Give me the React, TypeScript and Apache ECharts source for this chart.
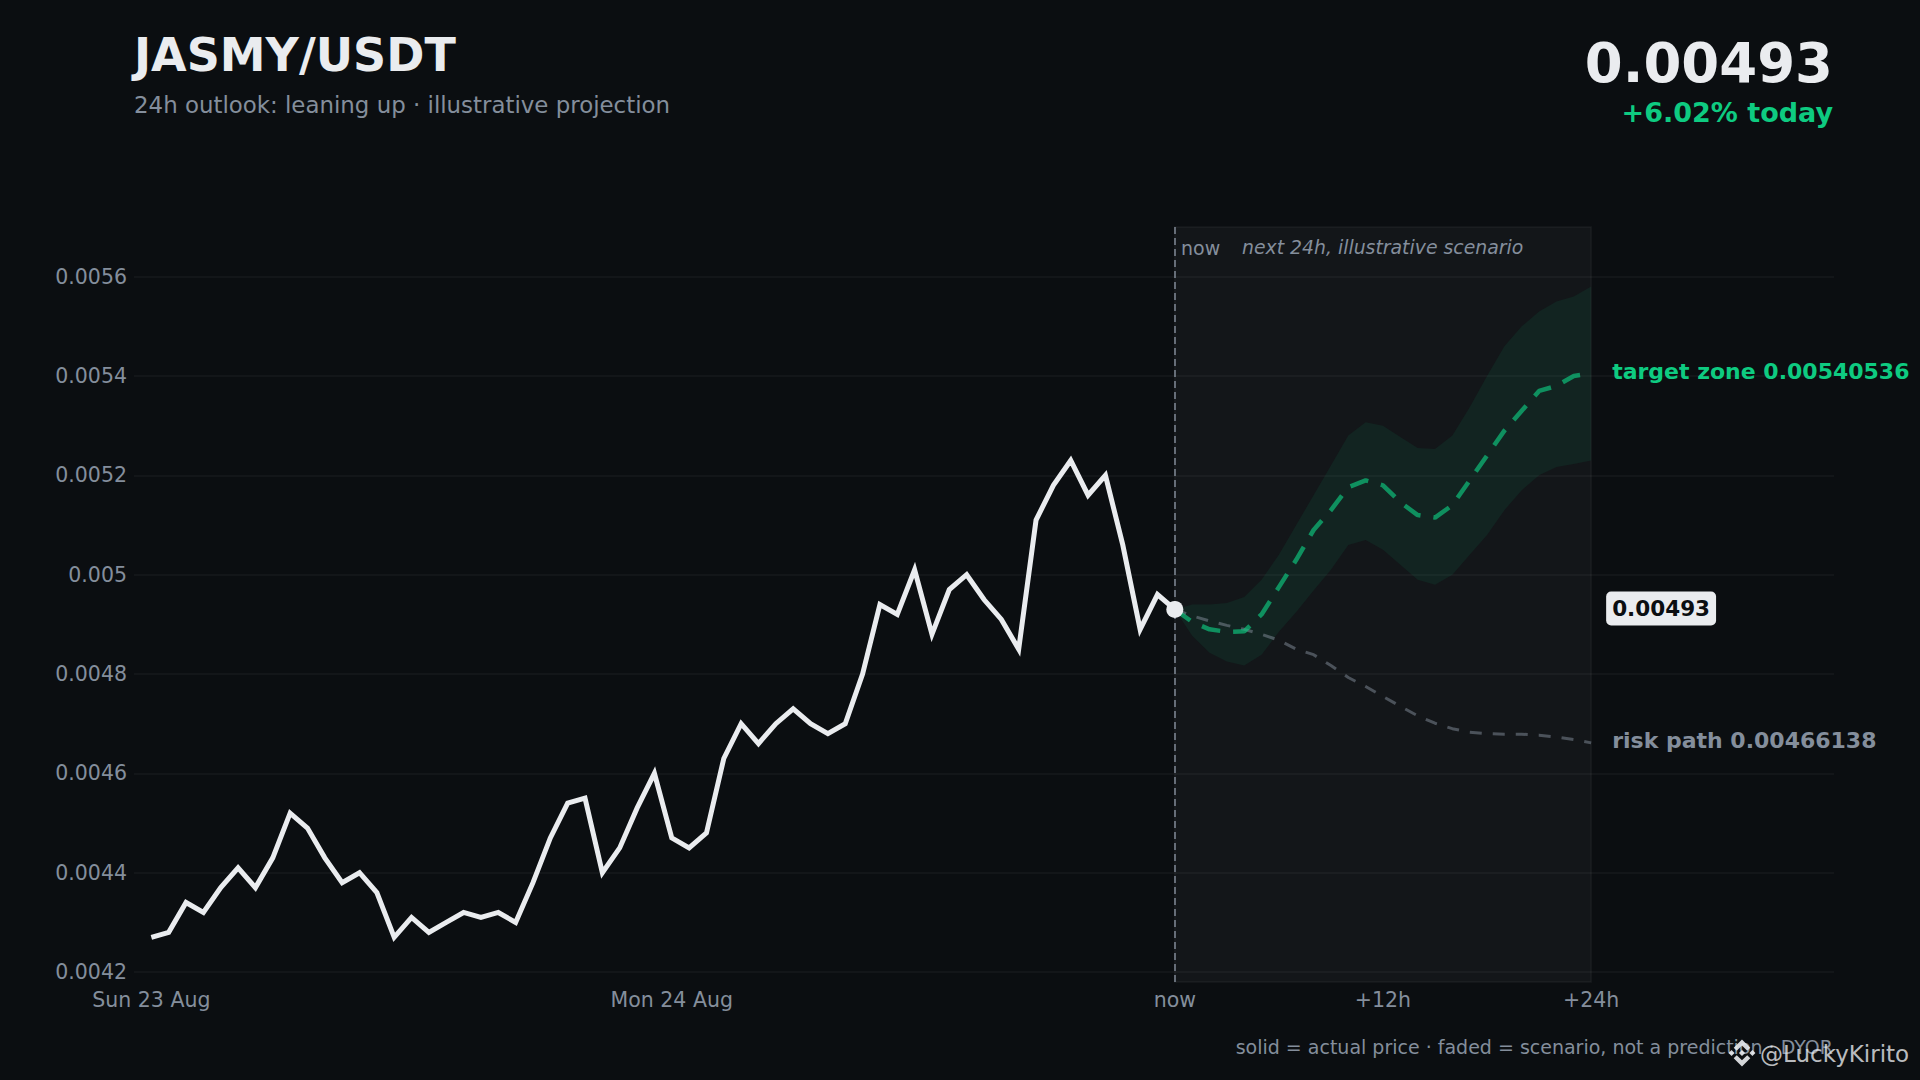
import React, { useEffect, useRef } from "react";
import * as echarts from "echarts";

const historyValues = [
  0.00427, 0.00428, 0.00434, 0.00432, 0.00437, 0.00441, 0.00437, 0.00443, 0.00452, 0.00449,
  0.00443, 0.00438, 0.0044, 0.00436, 0.00427, 0.00431, 0.00428, 0.0043, 0.00432, 0.00431,
  0.00432, 0.0043, 0.00438, 0.00447, 0.00454, 0.00455, 0.0044, 0.00445, 0.00453, 0.0046,
  0.00447, 0.00445, 0.00448, 0.00463, 0.0047, 0.00466, 0.0047, 0.00473, 0.0047, 0.00468,
  0.0047, 0.0048, 0.00494, 0.00492, 0.00501, 0.00488, 0.00497, 0.005, 0.00495, 0.00491,
  0.00485, 0.00511, 0.00518, 0.00523, 0.00516, 0.0052, 0.00506, 0.00489, 0.00496, 0.00493,
];
const targetPath = [
  0.00493, 0.004905, 0.00489, 0.004885, 0.004886, 0.00492, 0.004975, 0.00503, 0.00509, 0.00513,
  0.005176, 0.00519, 0.00518, 0.005146, 0.00512, 0.005115, 0.00514, 0.00519, 0.00524, 0.00529,
  0.00533, 0.00537, 0.00538, 0.0054, 0.00540536,
];
const bandUpper = [
  0.00493, 0.00494, 0.00494, 0.004943, 0.004955, 0.00499, 0.00504, 0.0051, 0.00516, 0.00522,
  0.00528, 0.005307, 0.0053, 0.005277, 0.005255, 0.005253, 0.00528, 0.005337, 0.0054, 0.00546,
  0.0055, 0.00553, 0.00555, 0.00556, 0.00558,
];
const bandLower = [
  0.00493, 0.004877, 0.004843, 0.004825, 0.004817, 0.004839, 0.004885, 0.004925, 0.004968, 0.00501,
  0.00506, 0.00507, 0.00505, 0.00502, 0.00499, 0.00498, 0.005, 0.00504, 0.00508, 0.00513,
  0.00517, 0.0052, 0.005217, 0.005223, 0.00523,
];
const riskPath = [
  0.00493, 0.004917, 0.004907, 0.004898, 0.00489, 0.00488, 0.004868, 0.00485, 0.004839, 0.004817,
  0.004793, 0.004775, 0.004755, 0.004735, 0.004716, 0.004701, 0.00469, 0.004683, 0.00468, 0.004679,
  0.004679, 0.004677, 0.004673, 0.004668, 0.00466138,
];
const yTicks = [0.0042, 0.0044, 0.0046, 0.0048, 0.005, 0.0052, 0.0054, 0.0056];
const xTickHours = [-59, -29, 0, 12, 24];
const xTickLabels = ["Sun 23 Aug", "Mon 24 Aug", "now", "+12h", "+24h"];
const currentPrice = 0.00493;
const targetEnd = 0.00540536;
const riskEnd = 0.00466138;

const BG = "#0b0e11";
const TEXT = "#eaecef";
const MUTED = "#848e9c";
const GREEN = "#0ecb81";
const FONT = "DejaVu Sans";
const LOGO =
  "M38.73 53.2l24.59-24.58 24.6 24.6 14.3-14.31L63.32 0 24.43 38.9z" +
  "M0 63.31l14.3-14.31 14.31 14.31-14.31 14.3z" +
  "M38.73 73.41L63.32 98l24.6-24.6 14.31 14.29-38.9 38.91-38.91-38.88-.02-.02z" +
  "M98 63.31l14.3-14.31 14.31 14.3-14.31 14.32z" +
  "M77.83 63.3L63.32 48.78 52.59 59.51l-1.24 1.23-2.54 2.54 14.51 14.5 14.51-14.52z";

echarts.graphic.registerShape("logo", echarts.graphic.extendPath(LOGO, {}) as any);

const hist = historyValues.map((v, i) => [i - 59, v]);
const fc = (arr: number[]) => arr.map((v, i) => [i, v]);
const bandData = bandUpper.map((v, i) => [i, bandLower[i], v]);

const txt = (
  text: string,
  x: number,
  y: number,
  fontSize: number,
  fill: string,
  extra: Record<string, unknown> = {},
) => ({
  type: "text",
  x,
  y,
  silent: true,
  z: 50,
  style: { text, fill, fontSize, fontFamily: FONT, verticalAlign: "middle", ...extra },
});

export default function App() {
  const ref = useRef<HTMLDivElement>(null);
  useEffect(() => {
    document.body.style.margin = "0";
    document.body.style.background = BG;
    const chart = echarts.init(ref.current!, undefined, { renderer: "svg" });
    chart.setOption({
      animation: false,
      backgroundColor: BG,
      textStyle: { fontFamily: FONT },
      grid: { left: 134, right: 86, top: 227, bottom: 98, containLabel: false },
      xAxis: {
        type: "value",
        min: -60,
        max: 38,
        axisLine: { show: false },
        splitLine: { show: false },
        axisTick: { show: false, customValues: xTickHours },
        axisLabel: {
          customValues: xTickHours,
          color: MUTED,
          fontSize: 20.5,
          fontFamily: FONT,
          margin: 7,
          formatter: (v: number) => xTickLabels[xTickHours.indexOf(v)] ?? "",
        },
      },
      yAxis: {
        type: "value",
        min: 0.00418,
        max: 0.0057,
        axisLine: { show: false },
        axisTick: { show: false, customValues: yTicks },
        splitLine: { show: true, lineStyle: { color: "rgba(255,255,255,0.05)", width: 1.5 } },
        axisLabel: {
          customValues: yTicks,
          color: MUTED,
          fontSize: 20.5,
          fontFamily: FONT,
          margin: 7,
          padding: [2, 0, 0, 0],
        },
      },
      series: [
        {
          type: "line",
          name: "panel",
          data: [],
          silent: true,
          markArea: {
            silent: true,
            itemStyle: {
              color: "rgba(255,255,255,0.035)",
              borderColor: "rgba(255,255,255,0.05)",
              borderWidth: 1.5,
            },
            data: [[{ xAxis: 0 }, { xAxis: 24 }]],
          },
          markLine: {
            silent: true,
            symbol: "none",
            label: { show: false },
            lineStyle: { color: MUTED, width: 1.8, type: [7, 4], opacity: 0.8 },
            data: [{ xAxis: 0 }],
          },
        },
        {
          type: "custom",
          name: "band",
          data: bandData,
          encode: { x: 0, y: [1, 2] },
          silent: true,
          renderItem: (params: any, api: any) => {
            if (params.dataIndex !== 0) return null;
            const upper = bandData.map((d) => api.coord([d[0], d[2]]));
            const lower = bandData.map((d) => api.coord([d[0], d[1]])).reverse();
            return {
              type: "polygon",
              shape: { points: upper.concat(lower) },
              style: { fill: GREEN, opacity: 0.08 },
            };
          },
        },
        {
          type: "line",
          name: "risk",
          data: fc(riskPath),
          showSymbol: false,
          lineStyle: { color: MUTED, width: 3, type: [12, 11], opacity: 0.5 },
          endLabel: {
            show: true,
            formatter: () => `risk path ${riskEnd}`,
            color: MUTED,
            fontSize: 22,
            fontWeight: "bold",
            fontFamily: FONT,
            distance: 21,
            offset: [0, -2],
          },
        },
        {
          type: "line",
          name: "target",
          data: fc(targetPath),
          showSymbol: false,
          lineStyle: { color: GREEN, width: 4.5, type: [19, 13], opacity: 0.65 },
          endLabel: {
            show: true,
            formatter: () => `target zone ${targetEnd}`,
            color: GREEN,
            fontSize: 22,
            fontWeight: "bold",
            fontFamily: FONT,
            distance: 21,
            offset: [0, -2],
          },
        },
        {
          type: "line",
          name: "price",
          data: hist,
          showSymbol: false,
          lineStyle: { color: TEXT, width: 5, join: "miter" },
        },
        {
          type: "scatter",
          name: "now",
          data: [[0, currentPrice]],
          symbolSize: 17,
          itemStyle: { color: TEXT, opacity: 1 },
          z: 5,
        },
        {
          type: "scatter",
          name: "last",
          data: [[24, currentPrice]],
          symbolSize: 0,
          itemStyle: { opacity: 1 },
          label: {
            show: true,
            position: "right",
            distance: 15,
            offset: [0, -1],
            formatter: () => `${currentPrice}`,
            color: BG,
            backgroundColor: TEXT,
            borderRadius: 5,
            padding: [6, 6],
            fontSize: 21.5,
            fontWeight: "bold",
            fontFamily: FONT,
            opacity: 1,
          },
          z: 5,
        },
      ],
      graphic: [
        txt("JASMY/USDT", 134, 54.5, 46, TEXT, { fontWeight: "bold" }),
        txt("24h outlook: leaning up · illustrative projection", 134, 105, 22.9, MUTED),
        txt("0.00493", 1833, 62.5, 54.5, TEXT, { fontWeight: "bold", align: "right" }),
        txt("+6.02% today", 1833, 112.5, 27, GREEN, { fontWeight: "bold", align: "right" }),
        txt("now", 1181, 247.5, 19, MUTED),
        txt("next 24h, illustrative scenario", 1242, 247.5, 18.85, MUTED, { fontStyle: "italic" }),
        txt("solid = actual price · faded = scenario, not a prediction · DYOR", 1833, 1046.5, 19, MUTED, {
          align: "right",
        }),
        txt("@LuckyKirito", 1760, 1054, 23, "rgba(234,236,239,0.8)"),
        {
          type: "logo",
          x: 1728.5,
          y: 1039.5,
          scaleX: 0.213,
          scaleY: 0.213,
          z: 51,
          silent: true,
          style: { fill: "rgba(234,236,239,0.9)" },
        },
      ],
    });
    return () => chart.dispose();
  }, []);
  return <div ref={ref} style={{ width: 1920, height: 1080, position: "fixed", left: 0, top: 0 }} />;
}
